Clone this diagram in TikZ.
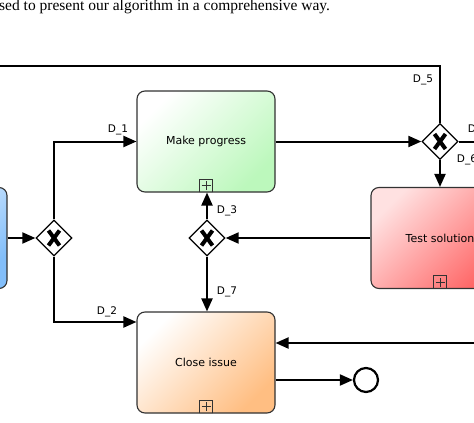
\documentclass[tikz,border=0pt]{standalone}
\usepackage{fontspec}
\setmainfont{Liberation Serif}
\setsansfont{DejaVu Sans}
\usepackage{xcolor}
\usetikzlibrary{arrows.meta}
\usetikzlibrary{positioning}
\usetikzlibrary{shapes.geometric}

\definecolor{greentask}{RGB}{188,248,188}
\definecolor{redtask}{RGB}{255,100,100}
\definecolor{pinktask}{RGB}{255,225,225}
\definecolor{orangetask}{RGB}{255,190,130}
\definecolor{bluetask}{RGB}{130,190,250}
\definecolor{bordergray}{RGB}{50,50,50}

\begin{document}
\begin{tikzpicture}[x=1pt, y=-1pt,
    task/.style={draw=bordergray, line width=1.1pt, rounded corners=8pt, minimum width=138pt, minimum height=101pt,
      inner sep=0pt, font=\sffamily\fontsize{11}{13}\selectfont,
      path picture={
        \draw[sharp corners, line width=0.8pt] ([shift={(-6.5pt,0pt)}]path picture bounding box.south) rectangle ([shift={(6.5pt,13pt)}]path picture bounding box.south);
        \draw[sharp corners, line width=0.8pt] ([shift={(-4.5pt,6.5pt)}]path picture bounding box.south) -- ([shift={(4.5pt,6.5pt)}]path picture bounding box.south);
        \draw[sharp corners, line width=0.8pt] ([shift={(0pt,2pt)}]path picture bounding box.south) -- ([shift={(0pt,11pt)}]path picture bounding box.south);
      }},
    gateway/.style={draw, diamond, line width=1.3pt, fill=white, minimum width=36pt, minimum height=36pt, inner sep=0pt,
      path picture={
        \draw[line width=4pt] ([shift={(-5.5pt,-7.5pt)}]path picture bounding box.center) -- ([shift={(5.5pt,7.5pt)}]path picture bounding box.center);
        \draw[line width=4pt] ([shift={(-5.5pt,7.5pt)}]path picture bounding box.center) -- ([shift={(5.5pt,-7.5pt)}]path picture bounding box.center);
      }},
    flow/.style={line width=2pt, -{Triangle[length=13pt,width=11pt]}},
    plain/.style={line width=2pt},
    lbl/.style={font=\sffamily\fontsize{10.5}{12}\selectfont, inner sep=0pt}]

  \path[use as bounding box, clip] (0,0) rectangle (474,423);

  % caption line cut from the page
  \node[anchor=base west, inner sep=0pt, font=\fontsize{15.5}{17}\selectfont] (caption) at (-1,10) {sed to present our algorithm in a comprehensive way.};

  % tasks
  \node[task, top color=white, bottom color=greentask, shading angle=45] (progress) at (206,141.5) {Make progress};
  \node[task, top color=white, bottom color=orangetask, shading angle=45] (close) at (206,362.5) {Close issue};
  \node[task, top color=pinktask, bottom color=redtask, shading angle=45] (test) at (440,238) {Test solution};
  \node[task, top color=white, bottom color=bluetask, shading angle=45] (start) at (-62,238) {};

  % gateways
  \node[gateway] (gwleft) at (54,238) {};
  \node[gateway] (gwmid) at (207,238) {};
  \node[gateway] (gwright) at (440,141.5) {};

  % end event
  \node[circle, draw, line width=2.2pt, minimum size=24pt, inner sep=0pt] (done) at (366,380) {};

  % free ends at the border
  \coordinate (edgetop) at (-10,66);
  \coordinate (edgeright) at (490,343);
  \coordinate (edgeout) at (490,141.5);

  % flows
  \draw[flow] (start) -- (gwleft);
  \draw[flow] (gwleft) |- (progress);
  \draw[flow] (gwleft) |- ([yshift=40.5pt]close.west);
  \draw[flow] (progress) -- (gwright);
  \draw[plain] (edgetop) -| (gwright);
  \draw[plain] (gwright) -- (edgeout);
  \draw[flow] (gwright) -- (test);
  \draw[flow] (test) -- (gwmid);
  \draw[flow] (gwmid.north) -- (gwmid.north |- progress.south);
  \draw[flow] (gwmid.south) -- (gwmid.south |- close.north);
  \draw[flow] (edgeright) -- (edgeright -| close.east);
  \draw[flow] (close.east |- done) -- (done);

  % labels
  \node[lbl] (d1) at (118,130) {D\_1};
  \node[lbl] (d2) at (107,312) {D\_2};
  \node[lbl] (d3) at (227,211) {D\_3};
  \node[lbl] (d7) at (227,292) {D\_7};
  \node[lbl] (d5) at (423,80) {D\_5};
  \node[lbl] (d4) at (478,130) {D\_4};
  \node[lbl] (d6) at (467,160) {D\_6};
\end{tikzpicture}
\end{document}
